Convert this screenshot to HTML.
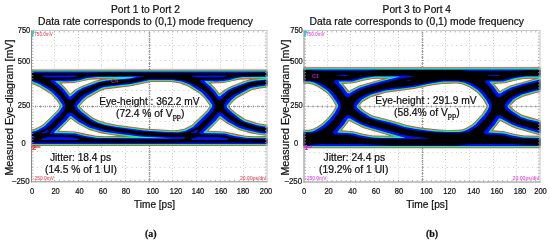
<!DOCTYPE html><html><head><meta charset="utf-8"><style>html,body{margin:0;padding:0;background:#fff}svg{display:block}text{font-family:'Liberation Sans',Arial,sans-serif}</style></head><body>
<svg width="550" height="244" viewBox="0 0 550 244">
<g stroke="#cbcbcb" stroke-width="1"><line x1="54.5" y1="31" x2="54.5" y2="182.3" stroke-dasharray="1 2.046"/><line x1="78.5" y1="31" x2="78.5" y2="182.3" stroke-dasharray="1 2.046"/><line x1="101.5" y1="31" x2="101.5" y2="182.3" stroke-dasharray="1 2.046"/><line x1="125.5" y1="31" x2="125.5" y2="182.3" stroke-dasharray="1 2.046"/><line x1="172.5" y1="31" x2="172.5" y2="182.3" stroke-dasharray="1 2.046"/><line x1="196.5" y1="31" x2="196.5" y2="182.3" stroke-dasharray="1 2.046"/><line x1="220.5" y1="31" x2="220.5" y2="182.3" stroke-dasharray="1 2.046"/><line x1="243.5" y1="31" x2="243.5" y2="182.3" stroke-dasharray="1 2.046"/><line x1="32" y1="45.5" x2="267.5" y2="45.5" stroke-dasharray="1 3.730"/><line x1="32" y1="60.5" x2="267.5" y2="60.5" stroke-dasharray="1 3.730"/><line x1="32" y1="75.5" x2="267.5" y2="75.5" stroke-dasharray="1 3.730"/><line x1="32" y1="90.5" x2="267.5" y2="90.5" stroke-dasharray="1 3.730"/><line x1="32" y1="121.5" x2="267.5" y2="121.5" stroke-dasharray="1 3.730"/><line x1="32" y1="136.5" x2="267.5" y2="136.5" stroke-dasharray="1 3.730"/><line x1="32" y1="151.5" x2="267.5" y2="151.5" stroke-dasharray="1 3.730"/><line x1="32" y1="167.5" x2="267.5" y2="167.5" stroke-dasharray="1 3.730"/></g>
<g stroke="#9a9a9a" stroke-width="1"><line x1="149.5" y1="30" x2="149.5" y2="182.3" stroke-dasharray="1 1"/><line x1="31" y1="106.5" x2="267.5" y2="106.5" stroke-dasharray="1 1"/></g>
<path d="M35.73 105.5v2M40.46 105.5v2M45.19 105.5v2M49.92 105.5v2M54.65 105.5v2M59.38 105.5v2M64.11 105.5v2M68.84 105.5v2M73.57 105.5v2M78.30 105.5v2M83.03 105.5v2M87.76 105.5v2M92.49 105.5v2M97.22 105.5v2M101.95 105.5v2M106.68 105.5v2M111.41 105.5v2M116.14 105.5v2M120.87 105.5v2M125.60 105.5v2M130.33 105.5v2M135.06 105.5v2M139.79 105.5v2M144.52 105.5v2M149.25 105.5v2M153.98 105.5v2M158.71 105.5v2M163.44 105.5v2M168.17 105.5v2M172.90 105.5v2M177.63 105.5v2M182.36 105.5v2M187.09 105.5v2M191.82 105.5v2M196.55 105.5v2M201.28 105.5v2M206.01 105.5v2M210.74 105.5v2M215.47 105.5v2M220.20 105.5v2M224.93 105.5v2M229.66 105.5v2M234.39 105.5v2M239.12 105.5v2M243.85 105.5v2M248.58 105.5v2M253.31 105.5v2M258.04 105.5v2M262.77 105.5v2M148.5 33.05h2M148.5 36.09h2M148.5 39.14h2M148.5 42.18h2M148.5 45.23h2M148.5 48.28h2M148.5 51.32h2M148.5 54.37h2M148.5 57.41h2M148.5 60.46h2M148.5 63.51h2M148.5 66.55h2M148.5 69.60h2M148.5 72.64h2M148.5 75.69h2M148.5 78.74h2M148.5 81.78h2M148.5 84.83h2M148.5 87.87h2M148.5 90.92h2M148.5 93.97h2M148.5 97.01h2M148.5 100.06h2M148.5 103.10h2M148.5 106.15h2M148.5 109.20h2M148.5 112.24h2M148.5 115.29h2M148.5 118.33h2M148.5 121.38h2M148.5 124.43h2M148.5 127.47h2M148.5 130.52h2M148.5 133.56h2M148.5 136.61h2M148.5 139.66h2M148.5 142.70h2M148.5 145.75h2M148.5 148.79h2M148.5 151.84h2M148.5 154.89h2M148.5 157.93h2M148.5 160.98h2M148.5 164.02h2M148.5 167.07h2M148.5 170.12h2M148.5 173.16h2M148.5 176.21h2M148.5 179.25h2" stroke="#8a8a8a" stroke-width="0.9" fill="none"/>
<clipPath id="cL"><rect x="31" y="30" width="236.5" height="152.3"/></clipPath>
<g clip-path="url(#cL)" fill-rule="evenodd">
<path fill="#e8402a" d="M279.2 146.1L19.0 146.1L19.0 129.9L30.0 129.9L34.8 128.8L40.0 126.3L43.7 123.8L51.8 116.0L57.0 110.7L60.3 106.0L56.5 100.3L51.2 94.5L40.2 87.4L31.0 83.5L24.2 82.3L19.0 82.0L19.0 69.5L279.2 69.5L279.2 86.4L259.8 88.5L251.5 90.2L237.0 98.2L233.2 101.5L229.1 106.2L231.8 109.2L236.5 113.2L245.5 119.3L258.2 123.2L279.2 126.5L279.2 146.1ZM70.5 93.5L74.3 90.0L80.8 86.4L94.5 80.9L100.7 79.2L89.5 79.8L74.0 83.0L61.3 83.5L65.5 87.7L70.0 93.5L70.5 93.5ZM220.0 93.5L223.8 90.0L230.2 86.4L244.0 80.9L250.2 79.2L239.0 79.8L223.5 83.0L210.8 83.5L215.0 87.7L219.5 93.5L220.0 93.5ZM178.0 130.0L184.2 128.8L192.0 124.8L206.5 110.7L209.8 106.0L205.0 99.0L199.5 93.5L188.0 86.5L179.5 83.3L171.0 82.0L151.0 82.0L130.8 86.3L104.5 89.5L99.5 91.4L87.5 98.2L83.7 101.5L79.6 106.2L84.3 111.0L93.2 117.8L98.5 120.3L106.5 122.7L118.0 125.0L145.0 128.4L172.2 130.2L178.0 130.0ZM118.0 136.0L101.5 133.4L89.2 129.9L77.6 123.8L70.8 118.7L59.0 130.8L75.2 131.4L95.8 135.7L105.2 136.2L118.0 136.0ZM267.5 136.0L251.0 133.4L238.8 129.9L227.1 123.8L220.2 118.7L208.5 130.8L224.8 131.4L245.2 135.7L254.8 136.2L267.5 136.0Z"/>
<path fill="#30e050" d="M279.2 145.3L19.0 145.3L19.0 130.7L30.2 130.7L35.0 129.4L40.8 126.7L44.0 124.5L57.7 111.0L61.1 106.0L57.2 100.0L51.5 93.8L41.0 87.0L31.2 82.8L24.5 81.6L19.0 81.3L19.0 70.2L279.2 70.2L279.2 85.7L259.5 87.8L250.8 89.8L236.8 97.5L232.7 101.0L228.3 106.2L231.3 109.8L235.0 113.0L244.8 119.7L252.2 122.4L259.0 124.2L279.2 127.2L279.2 136.6L260.0 134.3L243.5 130.7L237.8 128.7L229.8 124.4L220.0 117.7L216.8 121.8L206.8 131.5L222.8 131.9L238.8 135.4L248.0 136.7L279.2 136.9L279.2 145.3ZM70.5 94.5L77.0 89.1L94.8 81.6L102.5 79.7L115.7 78.2L94.2 78.6L87.8 79.3L80.8 81.2L74.0 82.3L59.3 82.8L65.0 88.2L69.8 94.5L70.5 94.5ZM220.0 94.5L226.5 89.1L244.2 81.6L252.0 79.7L265.2 78.2L243.8 78.6L237.2 79.3L230.3 81.2L223.5 82.3L208.8 82.8L214.5 88.2L219.3 94.5L220.0 94.5ZM177.7 130.8L184.5 129.4L192.2 125.5L207.2 111.0L210.6 106.0L205.7 98.8L199.8 92.8L188.8 86.0L183.8 83.8L178.8 82.3L171.2 81.3L150.8 81.3L130.8 85.6L105.2 88.6L101.2 89.8L88.0 97.0L83.2 100.9L78.8 106.2L84.0 111.7L92.5 118.2L98.2 120.9L107.2 123.7L117.8 125.7L144.8 129.2L166.8 130.7L177.7 130.8ZM130.7 136.8L110.5 134.3L94.0 130.7L88.2 128.7L80.2 124.4L70.5 117.7L67.2 121.8L57.3 131.5L73.2 131.9L89.2 135.4L98.5 136.7L130.7 136.8Z"/>
<path fill="#20e0f0" d="M279.2 144.5L19.0 144.5L19.0 131.5L30.5 131.5L35.5 130.2L41.2 127.4L44.5 125.2L58.4 111.5L62.0 106.0L57.9 99.5L52.0 93.1L41.5 86.3L31.8 82.1L24.8 80.8L19.0 80.5L19.0 71.0L279.2 71.0L279.2 77.2L247.5 77.5L238.5 78.2L230.0 80.5L223.5 81.5L216.2 82.0L206.0 81.8L209.0 83.9L213.8 88.8L219.5 95.9L227.0 89.8L232.8 87.0L247.8 81.3L255.8 80.0L279.2 77.8L279.2 84.8L259.2 87.0L250.8 88.8L236.2 96.8L232.0 100.4L227.2 106.2L227.8 107.5L234.5 113.7L240.8 118.4L244.8 120.7L258.8 125.0L279.2 128.0L279.2 135.8L260.0 133.5L244.0 130.0L238.2 128.0L230.2 123.7L220.0 116.8L218.8 117.5L216.1 121.2L204.6 132.2L222.8 132.8L238.5 136.2L247.8 137.5L279.2 137.8L279.2 144.5ZM70.4 95.8L73.8 92.4L77.5 89.8L83.2 87.0L98.2 81.3L106.2 80.0L132.8 77.2L98.0 77.5L87.5 78.5L80.5 80.5L74.0 81.5L66.8 82.0L56.5 81.8L59.5 83.9L64.3 88.8L69.6 95.8L70.4 95.8ZM177.5 131.8L185.0 130.2L192.8 126.2L207.9 111.5L211.5 106.0L206.4 98.2L200.2 92.1L189.2 85.3L181.2 82.1L171.5 80.5L150.5 80.5L130.8 84.8L105.0 87.8L101.2 88.8L86.8 96.8L82.5 100.4L77.8 106.0L78.3 107.5L81.5 110.7L92.0 118.9L97.8 121.7L105.8 124.2L117.5 126.5L144.5 130.0L177.5 131.8ZM153.2 137.8L140.2 137.0L112.2 133.8L96.2 130.5L86.2 126.7L78.2 122.3L70.5 116.8L69.3 117.5L66.6 121.2L55.1 132.2L73.2 132.8L89.0 136.2L98.2 137.5L153.2 137.8Z"/>
<path fill="#0010f0" d="M279.2 143.9L19.0 143.9L19.0 138.4L22.4 138.2L19.0 138.1L19.0 132.1L31.0 132.1L35.8 130.9L41.5 128.1L44.8 125.9L59.1 111.8L62.6 106.5L62.4 104.8L57.6 98.0L52.2 92.4L48.8 89.9L40.0 84.6L35.0 82.4L27.2 80.4L19.0 79.9L19.0 71.6L279.2 71.6L279.2 76.6L243.0 77.1L236.5 77.9L229.8 79.9L223.5 80.9L216.2 81.4L205.2 81.1L204.6 81.5L210.1 86.0L214.9 91.0L218.4 96.0L219.8 96.6L227.2 90.4L233.0 87.6L248.0 81.9L255.8 80.6L279.2 78.4L279.2 84.1L258.8 86.4L250.5 88.1L236.0 96.1L231.4 100.0L226.6 105.8L227.1 107.8L232.8 113.1L240.5 119.1L244.5 121.4L258.2 125.6L279.2 128.6L279.2 135.1L260.0 132.9L244.2 129.4L238.5 127.4L228.2 121.9L220.5 116.1L219.0 116.4L215.6 120.8L203.6 132.2L203.8 132.9L204.5 133.1L224.8 133.6L234.2 136.1L247.2 138.1L279.2 138.4L279.2 143.9ZM70.4 96.5L77.8 90.4L83.5 87.6L98.5 81.9L106.2 80.6L128.8 78.6L137.1 76.8L97.5 76.9L87.0 77.9L80.2 79.9L74.0 80.9L66.8 81.4L55.8 81.1L55.1 81.5L59.0 84.4L63.9 89.2L69.5 96.6L70.4 96.5ZM178.1 132.2L185.2 130.9L193.0 126.9L208.6 111.8L212.1 106.5L211.9 104.8L209.6 101.2L201.8 92.4L189.5 84.6L181.5 81.4L172.0 79.9L150.0 79.9L130.8 84.1L104.5 87.1L101.0 88.1L86.5 96.1L81.9 100.0L77.1 105.8L77.6 107.8L81.2 111.4L91.0 119.1L97.5 122.4L105.5 124.9L117.0 127.1L144.0 130.6L166.0 132.1L178.1 132.2ZM171.9 138.2L140.2 136.4L112.2 133.1L102.5 131.4L89.0 127.4L78.8 121.9L71.0 116.1L69.5 116.4L66.1 120.8L54.1 132.2L54.1 132.8L55.0 133.1L75.2 133.6L84.8 136.1L97.8 138.1L171.9 138.2Z"/>
<path fill="#000" d="M279.2 143.1L240.0 142.4L184.8 142.4L172.5 143.1L118.5 143.1L76.5 142.4L35.2 142.4L19.0 143.1L19.0 139.4L31.0 139.1L34.5 138.6L36.1 137.8L34.8 136.9L19.0 136.9L19.0 133.1L29.8 133.4L34.8 132.9L40.2 131.1L45.8 128.4L49.2 125.9L60.1 115.2L63.9 110.8L65.1 107.8L65.1 104.5L63.9 101.5L59.6 95.8L54.2 90.4L45.0 84.9L36.5 81.1L28.8 79.6L19.0 79.1L19.0 72.4L34.0 72.9L90.0 72.9L103.5 72.4L239.5 72.9L279.2 72.4L279.2 75.9L240.0 76.4L235.2 76.9L229.2 78.6L223.2 79.6L201.5 79.9L199.6 80.8L200.5 81.9L204.5 84.4L210.4 90.2L217.8 99.6L220.0 100.1L221.2 99.6L227.8 92.9L231.0 90.6L247.2 83.4L255.2 81.6L279.2 79.4L279.2 83.1L259.0 84.9L249.0 86.9L232.2 95.4L226.1 101.0L223.9 104.5L224.1 108.0L225.4 110.0L231.2 115.1L240.5 121.1L249.8 124.6L258.8 126.9L279.2 129.6L279.2 133.6L259.2 130.9L249.5 128.6L242.5 126.4L237.0 123.9L229.8 119.4L222.0 113.1L220.2 112.4L219.0 112.4L217.0 113.4L211.1 120.8L199.1 132.8L200.0 133.9L202.8 134.6L222.5 134.9L232.8 137.4L242.2 138.9L279.2 139.4L279.2 143.1ZM68.6 77.5L74.2 77.1L78.1 76.0L76.5 75.4L43.0 75.4L41.9 75.8L43.0 76.6L47.5 77.4L68.6 77.5ZM218.1 77.5L223.8 77.1L227.6 76.0L226.0 75.4L192.5 75.4L191.4 75.8L192.5 76.6L197.0 77.4L218.1 77.5ZM70.6 100.0L71.8 99.6L78.2 92.9L81.5 90.6L100.0 82.6L107.8 81.4L131.5 79.1L141.8 77.1L143.9 76.2L143.2 75.9L94.8 76.1L85.8 76.9L79.8 78.6L73.8 79.6L52.0 79.9L50.1 80.8L51.0 81.9L55.0 84.4L60.9 90.2L68.2 99.6L70.6 100.0ZM179.4 133.2L187.2 132.1L197.5 126.9L209.6 115.2L213.4 110.8L214.6 107.8L214.6 104.5L213.4 101.5L210.4 97.2L205.5 91.9L201.5 88.9L194.5 84.9L184.2 80.6L173.2 79.1L149.0 79.1L132.8 82.6L102.8 85.9L99.5 86.9L84.2 94.4L80.8 96.9L76.6 101.0L74.4 104.5L74.4 107.0L75.1 109.0L81.8 115.1L92.5 121.9L102.0 125.1L115.0 127.9L141.5 131.4L166.0 133.1L179.4 133.2ZM176.9 139.2L182.8 138.9L184.8 138.4L185.6 137.5L184.2 136.9L171.0 137.1L143.2 135.4L106.0 130.1L93.0 126.4L87.5 123.9L78.0 117.9L73.5 113.9L70.8 112.4L69.5 112.4L67.5 113.4L61.6 120.8L49.6 132.8L50.5 133.9L53.2 134.6L73.0 134.9L87.2 138.1L96.5 139.1L176.9 139.2ZM43.9 133.5L47.5 132.4L48.9 130.0L47.0 129.9L41.4 133.0L42.0 133.6L43.9 133.5ZM193.4 133.5L197.0 132.4L198.4 130.0L196.5 129.9L190.9 133.0L191.5 133.6L193.4 133.5ZM71.4 140.0L78.2 139.9L79.4 139.0L74.5 137.4L66.8 136.9L48.0 136.9L43.2 137.9L41.1 139.0L42.2 139.9L46.8 140.1L71.4 140.0ZM220.9 140.0L227.8 139.9L228.9 139.0L224.0 137.4L216.2 136.9L197.5 136.9L192.8 137.9L190.6 139.0L191.8 139.9L196.2 140.1L220.9 140.0Z"/>

</g>
<path d="M31 30.5H267.5M267.0 30V182.3" stroke="#c8c8c8" stroke-width="1" fill="none"/>
<path d="M31.5 30V182.3M31 181.8H267.5" stroke="#8a8a8a" stroke-width="1" fill="none"/>
<path d="M35.73 181.3v-1.5M35.73 31v1.5M40.46 181.3v-1.5M40.46 31v1.5M45.19 181.3v-1.5M45.19 31v1.5M49.92 181.3v-1.5M49.92 31v1.5M54.65 181.3v-1.5M54.65 31v1.5M59.38 181.3v-1.5M59.38 31v1.5M64.11 181.3v-1.5M64.11 31v1.5M68.84 181.3v-1.5M68.84 31v1.5M73.57 181.3v-1.5M73.57 31v1.5M78.30 181.3v-1.5M78.30 31v1.5M83.03 181.3v-1.5M83.03 31v1.5M87.76 181.3v-1.5M87.76 31v1.5M92.49 181.3v-1.5M92.49 31v1.5M97.22 181.3v-1.5M97.22 31v1.5M101.95 181.3v-1.5M101.95 31v1.5M106.68 181.3v-1.5M106.68 31v1.5M111.41 181.3v-1.5M111.41 31v1.5M116.14 181.3v-1.5M116.14 31v1.5M120.87 181.3v-1.5M120.87 31v1.5M125.60 181.3v-1.5M125.60 31v1.5M130.33 181.3v-1.5M130.33 31v1.5M135.06 181.3v-1.5M135.06 31v1.5M139.79 181.3v-1.5M139.79 31v1.5M144.52 181.3v-1.5M144.52 31v1.5M149.25 181.3v-1.5M149.25 31v1.5M153.98 181.3v-1.5M153.98 31v1.5M158.71 181.3v-1.5M158.71 31v1.5M163.44 181.3v-1.5M163.44 31v1.5M168.17 181.3v-1.5M168.17 31v1.5M172.90 181.3v-1.5M172.90 31v1.5M177.63 181.3v-1.5M177.63 31v1.5M182.36 181.3v-1.5M182.36 31v1.5M187.09 181.3v-1.5M187.09 31v1.5M191.82 181.3v-1.5M191.82 31v1.5M196.55 181.3v-1.5M196.55 31v1.5M201.28 181.3v-1.5M201.28 31v1.5M206.01 181.3v-1.5M206.01 31v1.5M210.74 181.3v-1.5M210.74 31v1.5M215.47 181.3v-1.5M215.47 31v1.5M220.20 181.3v-1.5M220.20 31v1.5M224.93 181.3v-1.5M224.93 31v1.5M229.66 181.3v-1.5M229.66 31v1.5M234.39 181.3v-1.5M234.39 31v1.5M239.12 181.3v-1.5M239.12 31v1.5M243.85 181.3v-1.5M243.85 31v1.5M248.58 181.3v-1.5M248.58 31v1.5M253.31 181.3v-1.5M253.31 31v1.5M258.04 181.3v-1.5M258.04 31v1.5M262.77 181.3v-1.5M262.77 31v1.5M32 33.05h1.5M266.5 33.05h-1.5M32 36.09h1.5M266.5 36.09h-1.5M32 39.14h1.5M266.5 39.14h-1.5M32 42.18h1.5M266.5 42.18h-1.5M32 45.23h1.5M266.5 45.23h-1.5M32 48.28h1.5M266.5 48.28h-1.5M32 51.32h1.5M266.5 51.32h-1.5M32 54.37h1.5M266.5 54.37h-1.5M32 57.41h1.5M266.5 57.41h-1.5M32 60.46h1.5M266.5 60.46h-1.5M32 63.51h1.5M266.5 63.51h-1.5M32 66.55h1.5M266.5 66.55h-1.5M32 69.60h1.5M266.5 69.60h-1.5M32 72.64h1.5M266.5 72.64h-1.5M32 75.69h1.5M266.5 75.69h-1.5M32 78.74h1.5M266.5 78.74h-1.5M32 81.78h1.5M266.5 81.78h-1.5M32 84.83h1.5M266.5 84.83h-1.5M32 87.87h1.5M266.5 87.87h-1.5M32 90.92h1.5M266.5 90.92h-1.5M32 93.97h1.5M266.5 93.97h-1.5M32 97.01h1.5M266.5 97.01h-1.5M32 100.06h1.5M266.5 100.06h-1.5M32 103.10h1.5M266.5 103.10h-1.5M32 106.15h1.5M266.5 106.15h-1.5M32 109.20h1.5M266.5 109.20h-1.5M32 112.24h1.5M266.5 112.24h-1.5M32 115.29h1.5M266.5 115.29h-1.5M32 118.33h1.5M266.5 118.33h-1.5M32 121.38h1.5M266.5 121.38h-1.5M32 124.43h1.5M266.5 124.43h-1.5M32 127.47h1.5M266.5 127.47h-1.5M32 130.52h1.5M266.5 130.52h-1.5M32 133.56h1.5M266.5 133.56h-1.5M32 136.61h1.5M266.5 136.61h-1.5M32 139.66h1.5M266.5 139.66h-1.5M32 142.70h1.5M266.5 142.70h-1.5M32 145.75h1.5M266.5 145.75h-1.5M32 148.79h1.5M266.5 148.79h-1.5M32 151.84h1.5M266.5 151.84h-1.5M32 154.89h1.5M266.5 154.89h-1.5M32 157.93h1.5M266.5 157.93h-1.5M32 160.98h1.5M266.5 160.98h-1.5M32 164.02h1.5M266.5 164.02h-1.5M32 167.07h1.5M266.5 167.07h-1.5M32 170.12h1.5M266.5 170.12h-1.5M32 173.16h1.5M266.5 173.16h-1.5M32 176.21h1.5M266.5 176.21h-1.5M32 179.25h1.5M266.5 179.25h-1.5" stroke="#a0a0a0" stroke-width="0.8" fill="none"/>
<g stroke="#cbcbcb" stroke-width="1"><line x1="327.5" y1="31" x2="327.5" y2="182.5" stroke-dasharray="1 2.050"/><line x1="350.5" y1="31" x2="350.5" y2="182.5" stroke-dasharray="1 2.050"/><line x1="374.5" y1="31" x2="374.5" y2="182.5" stroke-dasharray="1 2.050"/><line x1="398.5" y1="31" x2="398.5" y2="182.5" stroke-dasharray="1 2.050"/><line x1="445.5" y1="31" x2="445.5" y2="182.5" stroke-dasharray="1 2.050"/><line x1="469.5" y1="31" x2="469.5" y2="182.5" stroke-dasharray="1 2.050"/><line x1="493.5" y1="31" x2="493.5" y2="182.5" stroke-dasharray="1 2.050"/><line x1="516.5" y1="31" x2="516.5" y2="182.5" stroke-dasharray="1 2.050"/><line x1="304.5" y1="45.5" x2="540.5" y2="45.5" stroke-dasharray="1 3.740"/><line x1="304.5" y1="60.5" x2="540.5" y2="60.5" stroke-dasharray="1 3.740"/><line x1="304.5" y1="75.5" x2="540.5" y2="75.5" stroke-dasharray="1 3.740"/><line x1="304.5" y1="91.5" x2="540.5" y2="91.5" stroke-dasharray="1 3.740"/><line x1="304.5" y1="121.5" x2="540.5" y2="121.5" stroke-dasharray="1 3.740"/><line x1="304.5" y1="136.5" x2="540.5" y2="136.5" stroke-dasharray="1 3.740"/><line x1="304.5" y1="152.5" x2="540.5" y2="152.5" stroke-dasharray="1 3.740"/><line x1="304.5" y1="167.5" x2="540.5" y2="167.5" stroke-dasharray="1 3.740"/></g>
<g stroke="#9a9a9a" stroke-width="1"><line x1="422.5" y1="30" x2="422.5" y2="182.5" stroke-dasharray="1 1"/><line x1="303.5" y1="106.5" x2="540.5" y2="106.5" stroke-dasharray="1 1"/></g>
<path d="M308.24 105.5v2M312.98 105.5v2M317.72 105.5v2M322.46 105.5v2M327.20 105.5v2M331.94 105.5v2M336.68 105.5v2M341.42 105.5v2M346.16 105.5v2M350.90 105.5v2M355.64 105.5v2M360.38 105.5v2M365.12 105.5v2M369.86 105.5v2M374.60 105.5v2M379.34 105.5v2M384.08 105.5v2M388.82 105.5v2M393.56 105.5v2M398.30 105.5v2M403.04 105.5v2M407.78 105.5v2M412.52 105.5v2M417.26 105.5v2M422.00 105.5v2M426.74 105.5v2M431.48 105.5v2M436.22 105.5v2M440.96 105.5v2M445.70 105.5v2M450.44 105.5v2M455.18 105.5v2M459.92 105.5v2M464.66 105.5v2M469.40 105.5v2M474.14 105.5v2M478.88 105.5v2M483.62 105.5v2M488.36 105.5v2M493.10 105.5v2M497.84 105.5v2M502.58 105.5v2M507.32 105.5v2M512.06 105.5v2M516.80 105.5v2M521.54 105.5v2M526.28 105.5v2M531.02 105.5v2M535.76 105.5v2M421.5 33.05h2M421.5 36.10h2M421.5 39.15h2M421.5 42.20h2M421.5 45.25h2M421.5 48.30h2M421.5 51.35h2M421.5 54.40h2M421.5 57.45h2M421.5 60.50h2M421.5 63.55h2M421.5 66.60h2M421.5 69.65h2M421.5 72.70h2M421.5 75.75h2M421.5 78.80h2M421.5 81.85h2M421.5 84.90h2M421.5 87.95h2M421.5 91.00h2M421.5 94.05h2M421.5 97.10h2M421.5 100.15h2M421.5 103.20h2M421.5 106.25h2M421.5 109.30h2M421.5 112.35h2M421.5 115.40h2M421.5 118.45h2M421.5 121.50h2M421.5 124.55h2M421.5 127.60h2M421.5 130.65h2M421.5 133.70h2M421.5 136.75h2M421.5 139.80h2M421.5 142.85h2M421.5 145.90h2M421.5 148.95h2M421.5 152.00h2M421.5 155.05h2M421.5 158.10h2M421.5 161.15h2M421.5 164.20h2M421.5 167.25h2M421.5 170.30h2M421.5 173.35h2M421.5 176.40h2M421.5 179.45h2" stroke="#8a8a8a" stroke-width="0.9" fill="none"/>
<clipPath id="cR"><rect x="303.5" y="30" width="237.0" height="152.5"/></clipPath>
<g clip-path="url(#cR)" fill-rule="evenodd">
<path fill="#e8402a" d="M552.2 148.3L291.5 148.3L291.5 129.7L309.2 129.7L313.0 128.8L317.0 126.8L322.0 123.5L327.5 118.2L332.5 112.0L335.8 106.2L332.8 100.5L328.8 95.3L325.7 92.2L318.2 87.2L312.8 84.7L308.5 83.8L296.8 83.5L291.5 84.0L291.5 67.2L552.2 67.2L552.2 90.5L536.8 92.8L523.0 96.7L516.0 100.2L510.1 106.0L515.0 110.5L522.0 114.8L552.2 123.3L552.2 148.3ZM349.1 91.0L352.2 88.9L359.2 85.6L383.0 78.8L372.8 79.0L364.5 80.5L353.5 83.3L343.3 84.0L349.1 91.0ZM500.1 91.0L503.2 88.9L510.2 85.6L534.0 78.8L523.8 79.0L515.5 80.5L504.5 83.3L494.3 84.0L500.1 91.0ZM459.0 129.8L462.5 129.2L465.7 128.0L471.0 125.0L474.5 122.2L482.0 114.0L486.8 106.2L482.5 98.8L476.7 92.2L469.2 87.2L462.0 84.3L456.8 83.5L442.0 84.0L431.2 85.5L414.0 89.0L385.8 92.8L370.2 97.4L363.0 101.8L359.1 106.0L364.0 110.5L370.5 114.6L373.5 115.8L391.8 120.4L408.0 125.2L420.5 127.5L438.8 129.4L447.5 129.9L459.0 129.8ZM389.8 135.8L363.0 127.9L349.2 121.0L342.0 130.2L353.2 131.2L363.2 133.7L373.0 135.4L389.8 135.8ZM540.8 135.8L514.0 127.9L500.2 121.0L493.0 130.2L504.2 131.2L514.2 133.7L524.0 135.4L540.8 135.8Z"/>
<path fill="#30e050" d="M552.2 147.6L291.5 147.6L291.5 130.4L309.5 130.4L313.2 129.4L317.8 127.2L322.2 124.2L328.2 118.5L333.2 112.2L336.0 108.0L336.6 106.2L333.5 100.2L329.5 95.0L326.0 91.5L319.0 86.8L313.0 84.1L308.8 83.1L296.5 82.8L291.5 83.3L291.5 67.9L552.2 67.9L552.2 89.8L537.5 91.8L522.8 96.1L515.8 99.5L513.5 101.2L509.3 106.0L510.5 107.8L513.8 110.5L521.2 115.2L528.5 117.7L542.5 121.1L552.2 124.1L552.2 147.6ZM349.0 92.0L352.5 89.6L359.5 86.3L388.2 78.0L372.5 78.3L352.0 82.8L341.8 83.2L348.3 91.8L349.0 92.0ZM500.0 92.0L503.5 89.6L510.5 86.3L539.2 78.0L523.5 78.3L503.0 82.8L492.8 83.2L499.3 91.8L500.0 92.0ZM458.7 130.5L461.8 130.2L466.0 128.7L471.2 125.7L474.8 123.0L482.7 114.2L486.2 109.2L487.6 106.2L486.7 104.0L483.2 98.5L477.0 91.5L470.0 86.8L461.2 83.3L457.0 82.8L441.8 83.3L431.0 84.8L414.0 88.3L386.5 91.8L376.2 94.6L366.5 98.5L362.8 101.0L358.3 106.0L359.8 108.0L363.8 111.2L369.8 115.0L373.2 116.4L391.5 121.1L408.8 126.2L420.2 128.2L438.5 130.2L458.7 130.5ZM394.7 136.5L363.2 127.2L349.0 120.1L340.3 131.0L353.2 131.9L364.0 134.7L372.8 136.2L394.7 136.5ZM545.7 136.5L514.2 127.2L500.0 120.1L491.3 131.0L504.2 131.9L515.0 134.7L523.8 136.2L545.7 136.5Z"/>
<path fill="#20e0f0" d="M552.2 146.8L291.5 146.8L291.5 131.2L307.5 131.5L312.2 130.7L315.5 129.4L322.8 124.9L328.9 119.0L333.9 112.8L336.7 108.5L337.5 106.2L335.4 101.8L330.2 94.5L326.5 90.8L319.5 86.1L313.5 83.3L309.0 82.2L296.2 82.0L291.5 82.5L291.5 68.8L552.2 68.8L552.2 89.0L537.2 91.0L522.2 95.3L516.5 98.1L513.2 100.3L508.3 106.0L508.8 107.2L513.2 111.2L521.2 116.2L528.8 118.7L542.0 121.8L552.2 125.0L552.2 137.2L518.2 127.7L511.8 125.2L500.2 119.2L499.1 119.5L495.6 124.8L489.2 132.0L504.2 132.8L514.8 135.5L523.5 137.0L552.2 137.5L552.2 146.8ZM348.8 93.0L353.0 90.3L360.0 87.0L372.8 83.0L395.5 77.0L372.2 77.5L365.0 78.8L352.0 82.0L339.8 82.2L348.0 92.8L348.8 93.0ZM499.8 93.0L504.0 90.3L511.0 87.0L523.8 83.0L546.5 77.0L523.2 77.5L516.0 78.8L503.0 82.0L490.8 82.2L499.0 92.8L499.8 93.0ZM458.5 131.5L463.2 130.7L466.5 129.4L471.8 126.4L475.2 123.7L483.4 114.8L487.7 108.5L488.5 106.2L485.2 99.8L481.2 94.5L477.5 90.8L470.5 86.1L463.8 83.1L457.2 82.0L443.8 82.2L430.8 84.0L414.0 87.5L386.2 91.0L371.2 95.3L365.5 98.1L362.2 100.3L357.3 106.0L357.8 107.2L362.2 111.2L370.2 116.2L405.2 126.2L416.5 128.5L435.5 130.8L447.0 131.5L458.5 131.5ZM401.8 137.5L367.2 127.7L360.8 125.2L349.2 119.2L348.1 119.5L344.6 124.8L338.2 132.0L353.2 132.8L363.8 135.5L372.5 137.0L401.8 137.5Z"/>
<path fill="#0010f0" d="M552.2 146.1L291.5 146.1L291.5 131.9L308.0 132.1L312.5 131.4L315.8 130.1L323.0 125.6L329.6 119.2L334.6 113.0L338.1 106.8L337.9 104.8L336.1 101.5L330.9 94.2L326.8 90.1L319.8 85.4L313.8 82.6L309.5 81.6L295.8 81.4L291.5 81.9L291.5 69.4L552.2 69.4L552.2 88.4L536.8 90.4L522.0 94.6L516.2 97.4L513.0 99.6L507.6 105.8L508.1 107.5L511.8 110.9L521.0 116.9L528.5 119.4L541.8 122.4L552.2 125.6L552.2 136.6L518.5 127.1L512.0 124.6L500.8 118.6L499.0 118.6L498.4 119.2L495.1 124.2L488.4 132.0L488.8 132.6L504.2 133.4L512.0 135.6L523.0 137.6L552.2 138.1L552.2 146.1ZM349.4 93.5L353.2 90.9L360.2 87.6L373.0 83.6L400.1 76.5L374.5 76.6L364.5 78.1L352.0 81.4L338.8 81.6L338.4 82.0L342.6 86.5L347.4 93.2L349.4 93.5ZM500.4 93.5L504.2 90.9L511.2 87.6L524.0 83.6L551.1 76.5L525.5 76.6L515.5 78.1L503.0 81.4L489.8 81.6L489.4 82.0L493.6 86.5L498.4 93.2L500.4 93.5ZM459.1 132.0L462.5 131.6L466.8 130.1L472.0 127.1L475.5 124.4L484.1 115.0L487.6 110.0L489.1 106.8L488.9 104.8L485.9 99.5L481.9 94.2L477.8 90.1L470.8 85.4L464.0 82.4L457.8 81.4L443.2 81.6L430.2 83.4L414.0 86.9L385.8 90.4L371.0 94.6L365.2 97.4L362.0 99.6L356.6 105.8L357.1 107.5L360.8 110.9L370.0 116.9L377.5 119.4L390.8 122.4L405.0 126.9L416.0 129.1L435.0 131.4L446.5 132.1L459.1 132.0ZM405.6 138.0L367.5 127.1L361.0 124.6L349.8 118.6L348.0 118.6L347.4 119.2L344.1 124.2L337.4 132.0L337.8 132.6L353.2 133.4L361.0 135.6L372.0 137.6L381.8 138.1L405.6 138.0Z"/>
<path fill="#000" d="M552.2 145.4L528.8 145.1L513.5 144.1L470.5 144.1L456.2 145.4L390.0 145.4L362.5 144.1L349.0 144.1L319.5 144.1L305.2 145.4L291.5 145.4L291.5 132.9L312.0 132.9L316.8 132.1L322.0 129.6L328.0 125.4L334.1 119.0L338.9 112.5L340.9 108.0L340.4 102.8L335.9 95.5L330.2 89.4L323.8 84.9L317.2 81.9L312.5 80.9L306.0 80.4L291.5 80.6L291.5 70.1L309.0 70.1L319.0 70.9L363.8 70.9L381.5 70.1L460.0 70.1L470.0 70.9L514.8 70.9L532.5 70.1L552.2 70.1L552.2 75.4L521.0 75.9L511.5 77.4L502.5 79.9L496.5 80.4L487.0 80.1L484.4 81.5L491.9 89.5L495.6 95.2L497.2 96.9L499.2 97.4L501.8 96.1L507.2 91.9L514.5 88.6L529.8 84.1L552.2 78.6L552.2 87.1L533.5 89.6L518.0 94.1L512.8 96.6L509.2 99.1L505.9 102.5L504.6 105.0L505.1 108.5L507.5 111.1L511.5 114.1L518.2 117.9L525.8 120.4L538.8 123.4L552.2 127.4L552.2 134.1L516.5 124.1L508.0 120.1L499.5 115.1L497.2 115.6L495.6 117.2L490.4 124.8L483.4 132.2L484.8 133.9L486.2 134.4L501.2 134.9L511.8 137.6L518.8 138.6L552.2 139.1L552.2 145.4ZM348.1 76.0L348.6 75.2L348.0 74.9L338.2 74.9L335.9 75.8L348.1 76.0ZM499.1 76.0L499.6 75.2L499.0 74.9L489.2 74.9L486.9 75.8L499.1 76.0ZM348.4 97.2L350.8 96.1L356.2 91.9L365.0 88.1L399.2 78.9L414.9 76.2L406.0 75.4L370.0 75.9L360.5 77.4L349.8 80.1L336.0 80.1L334.0 80.9L333.4 81.5L333.6 82.0L340.9 89.5L344.6 95.2L346.2 96.9L348.4 97.2ZM407.6 81.0L411.0 80.6L411.9 80.0L409.5 79.9L405.6 80.8L407.6 81.0ZM459.1 133.0L465.2 132.6L468.5 131.9L477.5 126.6L486.1 117.8L490.6 111.2L491.9 108.0L491.4 102.8L485.1 93.2L481.2 89.4L474.8 84.9L467.5 81.6L457.0 80.4L441.8 80.6L428.2 82.4L410.2 86.1L391.2 88.1L382.5 89.6L367.0 94.1L361.8 96.6L358.2 99.1L354.9 102.5L353.6 105.0L354.1 108.5L356.5 111.1L360.5 114.1L367.2 117.9L404.0 128.4L414.0 130.4L428.0 132.1L446.8 133.1L459.1 133.0ZM415.6 139.0L430.1 138.5L427.8 137.9L412.8 136.6L404.0 135.1L384.0 129.1L370.0 125.6L362.5 122.9L348.5 115.1L346.2 115.6L344.6 117.2L339.4 124.8L332.4 132.2L333.8 133.9L335.2 134.4L350.2 134.9L360.8 137.6L367.8 138.6L384.0 139.1L415.6 139.0Z"/>

</g>
<path d="M303.5 30.5H540.5M540.0 30V182.5" stroke="#c8c8c8" stroke-width="1" fill="none"/>
<path d="M304.0 30V182.5M303.5 182.0H540.5" stroke="#8a8a8a" stroke-width="1" fill="none"/>
<path d="M308.24 181.5v-1.5M308.24 31v1.5M312.98 181.5v-1.5M312.98 31v1.5M317.72 181.5v-1.5M317.72 31v1.5M322.46 181.5v-1.5M322.46 31v1.5M327.20 181.5v-1.5M327.20 31v1.5M331.94 181.5v-1.5M331.94 31v1.5M336.68 181.5v-1.5M336.68 31v1.5M341.42 181.5v-1.5M341.42 31v1.5M346.16 181.5v-1.5M346.16 31v1.5M350.90 181.5v-1.5M350.90 31v1.5M355.64 181.5v-1.5M355.64 31v1.5M360.38 181.5v-1.5M360.38 31v1.5M365.12 181.5v-1.5M365.12 31v1.5M369.86 181.5v-1.5M369.86 31v1.5M374.60 181.5v-1.5M374.60 31v1.5M379.34 181.5v-1.5M379.34 31v1.5M384.08 181.5v-1.5M384.08 31v1.5M388.82 181.5v-1.5M388.82 31v1.5M393.56 181.5v-1.5M393.56 31v1.5M398.30 181.5v-1.5M398.30 31v1.5M403.04 181.5v-1.5M403.04 31v1.5M407.78 181.5v-1.5M407.78 31v1.5M412.52 181.5v-1.5M412.52 31v1.5M417.26 181.5v-1.5M417.26 31v1.5M422.00 181.5v-1.5M422.00 31v1.5M426.74 181.5v-1.5M426.74 31v1.5M431.48 181.5v-1.5M431.48 31v1.5M436.22 181.5v-1.5M436.22 31v1.5M440.96 181.5v-1.5M440.96 31v1.5M445.70 181.5v-1.5M445.70 31v1.5M450.44 181.5v-1.5M450.44 31v1.5M455.18 181.5v-1.5M455.18 31v1.5M459.92 181.5v-1.5M459.92 31v1.5M464.66 181.5v-1.5M464.66 31v1.5M469.40 181.5v-1.5M469.40 31v1.5M474.14 181.5v-1.5M474.14 31v1.5M478.88 181.5v-1.5M478.88 31v1.5M483.62 181.5v-1.5M483.62 31v1.5M488.36 181.5v-1.5M488.36 31v1.5M493.10 181.5v-1.5M493.10 31v1.5M497.84 181.5v-1.5M497.84 31v1.5M502.58 181.5v-1.5M502.58 31v1.5M507.32 181.5v-1.5M507.32 31v1.5M512.06 181.5v-1.5M512.06 31v1.5M516.80 181.5v-1.5M516.80 31v1.5M521.54 181.5v-1.5M521.54 31v1.5M526.28 181.5v-1.5M526.28 31v1.5M531.02 181.5v-1.5M531.02 31v1.5M535.76 181.5v-1.5M535.76 31v1.5M304.5 33.05h1.5M539.5 33.05h-1.5M304.5 36.10h1.5M539.5 36.10h-1.5M304.5 39.15h1.5M539.5 39.15h-1.5M304.5 42.20h1.5M539.5 42.20h-1.5M304.5 45.25h1.5M539.5 45.25h-1.5M304.5 48.30h1.5M539.5 48.30h-1.5M304.5 51.35h1.5M539.5 51.35h-1.5M304.5 54.40h1.5M539.5 54.40h-1.5M304.5 57.45h1.5M539.5 57.45h-1.5M304.5 60.50h1.5M539.5 60.50h-1.5M304.5 63.55h1.5M539.5 63.55h-1.5M304.5 66.60h1.5M539.5 66.60h-1.5M304.5 69.65h1.5M539.5 69.65h-1.5M304.5 72.70h1.5M539.5 72.70h-1.5M304.5 75.75h1.5M539.5 75.75h-1.5M304.5 78.80h1.5M539.5 78.80h-1.5M304.5 81.85h1.5M539.5 81.85h-1.5M304.5 84.90h1.5M539.5 84.90h-1.5M304.5 87.95h1.5M539.5 87.95h-1.5M304.5 91.00h1.5M539.5 91.00h-1.5M304.5 94.05h1.5M539.5 94.05h-1.5M304.5 97.10h1.5M539.5 97.10h-1.5M304.5 100.15h1.5M539.5 100.15h-1.5M304.5 103.20h1.5M539.5 103.20h-1.5M304.5 106.25h1.5M539.5 106.25h-1.5M304.5 109.30h1.5M539.5 109.30h-1.5M304.5 112.35h1.5M539.5 112.35h-1.5M304.5 115.40h1.5M539.5 115.40h-1.5M304.5 118.45h1.5M539.5 118.45h-1.5M304.5 121.50h1.5M539.5 121.50h-1.5M304.5 124.55h1.5M539.5 124.55h-1.5M304.5 127.60h1.5M539.5 127.60h-1.5M304.5 130.65h1.5M539.5 130.65h-1.5M304.5 133.70h1.5M539.5 133.70h-1.5M304.5 136.75h1.5M539.5 136.75h-1.5M304.5 139.80h1.5M539.5 139.80h-1.5M304.5 142.85h1.5M539.5 142.85h-1.5M304.5 145.90h1.5M539.5 145.90h-1.5M304.5 148.95h1.5M539.5 148.95h-1.5M304.5 152.00h1.5M539.5 152.00h-1.5M304.5 155.05h1.5M539.5 155.05h-1.5M304.5 158.10h1.5M539.5 158.10h-1.5M304.5 161.15h1.5M539.5 161.15h-1.5M304.5 164.20h1.5M539.5 164.20h-1.5M304.5 167.25h1.5M539.5 167.25h-1.5M304.5 170.30h1.5M539.5 170.30h-1.5M304.5 173.35h1.5M539.5 173.35h-1.5M304.5 176.40h1.5M539.5 176.40h-1.5M304.5 179.45h1.5M539.5 179.45h-1.5" stroke="#a0a0a0" stroke-width="0.8" fill="none"/>
<text x="34.3" y="35.9" fill="#e8283c" font-size="4.9" textLength="18.5" lengthAdjust="spacingAndGlyphs">750.0mV</text>
<text x="32.8" y="179.9" fill="#e8283c" font-size="4.9" textLength="21.3" lengthAdjust="spacingAndGlyphs">-250.0mV</text>
<text x="240" y="180" fill="#e8283c" font-size="4.9" textLength="26" lengthAdjust="spacingAndGlyphs">20.00ps/div</text>
<text x="306" y="36" fill="#e020e0" font-size="4.9" textLength="18.6" lengthAdjust="spacingAndGlyphs">750.0mV</text>
<text x="305" y="179.9" fill="#e020e0" font-size="4.9" textLength="21.5" lengthAdjust="spacingAndGlyphs">-250.0mV</text>
<text x="512.5" y="180" fill="#e020e0" font-size="4.9" textLength="26.5" lengthAdjust="spacingAndGlyphs">20.00ps/div</text>
<text x="111" y="82.6" fill="#e02818" font-weight="bold" font-size="5.6">C4</text>
<text x="312" y="78.3" fill="#c418c8" font-weight="bold" font-size="5.6">C1</text>
<text x="32" y="150" fill="#ee2020" font-weight="bold" font-size="7.5">2</text>
<path d="M31.5 147h9" stroke="#ee2020" stroke-width="1.2"/>
<text x="304.2" y="150" fill="#e020e0" font-weight="bold" font-size="7.5">1</text>
<path d="M304 147h8" stroke="#e020e0" stroke-width="1.2"/>
<path d="M31.5 30.5h3l-1.5 6.5h-1.5z" fill="#40c8c8"/>
<path d="M304 30.5h3.5l-2 6h-1.5z" fill="#40c8c8"/>
<g fill="#111" stroke="#111" stroke-width="0.22">
<text x="111" y="13.0" font-size="10.3" text-anchor="start" textLength="69" lengthAdjust="spacingAndGlyphs">Port 1 to Port 2</text>
<text x="38" y="25.3" font-size="10.3" text-anchor="start" textLength="215" lengthAdjust="spacingAndGlyphs">Data rate corresponds to (0,1) mode frequency</text>
<text x="382.6" y="12.9" font-size="10.3" text-anchor="start" textLength="68.4" lengthAdjust="spacingAndGlyphs">Port 3 to Port 4</text>
<text x="309.6" y="25.0" font-size="10.3" text-anchor="start" textLength="214.4" lengthAdjust="spacingAndGlyphs">Data rate corresponds to (0,1) mode frequency</text>
<text x="30.3" y="32.8" font-size="8.7" text-anchor="end" textLength="12.6" lengthAdjust="spacingAndGlyphs">750</text>
<text x="30.3" y="63.6" font-size="8.7" text-anchor="end" textLength="12.6" lengthAdjust="spacingAndGlyphs">500</text>
<text x="30.3" y="108.2" font-size="8.7" text-anchor="end" textLength="12.6" lengthAdjust="spacingAndGlyphs">250</text>
<text x="25.7" y="146.1" font-size="8.7" text-anchor="end" textLength="4.2" lengthAdjust="spacingAndGlyphs">0</text>
<text x="29.6" y="184.4" font-size="8.7" text-anchor="end" textLength="17.8" lengthAdjust="spacingAndGlyphs">−250</text>
<text x="302.8" y="32.8" font-size="8.7" text-anchor="end" textLength="12.6" lengthAdjust="spacingAndGlyphs">750</text>
<text x="302.8" y="63.6" font-size="8.7" text-anchor="end" textLength="12.6" lengthAdjust="spacingAndGlyphs">500</text>
<text x="302.8" y="108.2" font-size="8.7" text-anchor="end" textLength="12.6" lengthAdjust="spacingAndGlyphs">250</text>
<text x="298.2" y="146.1" font-size="8.7" text-anchor="end" textLength="4.2" lengthAdjust="spacingAndGlyphs">0</text>
<text x="302.1" y="184.4" font-size="8.7" text-anchor="end" textLength="17.8" lengthAdjust="spacingAndGlyphs">−250</text>
<text x="32" y="194.3" font-size="8.7" text-anchor="middle" textLength="4.2" lengthAdjust="spacingAndGlyphs">0</text>
<text x="55.6" y="194.3" font-size="8.7" text-anchor="middle" textLength="8.4" lengthAdjust="spacingAndGlyphs">20</text>
<text x="79.4" y="194.3" font-size="8.7" text-anchor="middle" textLength="8.4" lengthAdjust="spacingAndGlyphs">40</text>
<text x="103" y="194.3" font-size="8.7" text-anchor="middle" textLength="8.4" lengthAdjust="spacingAndGlyphs">60</text>
<text x="126" y="194.3" font-size="8.7" text-anchor="middle" textLength="8.4" lengthAdjust="spacingAndGlyphs">80</text>
<text x="152.75" y="194.3" font-size="8.7" text-anchor="middle" textLength="12.6" lengthAdjust="spacingAndGlyphs">100</text>
<text x="176" y="194.3" font-size="8.7" text-anchor="middle" textLength="12.6" lengthAdjust="spacingAndGlyphs">120</text>
<text x="198" y="194.3" font-size="8.7" text-anchor="middle" textLength="12.6" lengthAdjust="spacingAndGlyphs">140</text>
<text x="221" y="194.3" font-size="8.7" text-anchor="middle" textLength="12.6" lengthAdjust="spacingAndGlyphs">160</text>
<text x="243" y="194.3" font-size="8.7" text-anchor="middle" textLength="12.6" lengthAdjust="spacingAndGlyphs">180</text>
<text x="266" y="194.3" font-size="8.7" text-anchor="middle" textLength="12.6" lengthAdjust="spacingAndGlyphs">200</text>
<text x="304" y="194.3" font-size="8.7" text-anchor="middle" textLength="4.2" lengthAdjust="spacingAndGlyphs">0</text>
<text x="328.6" y="194.3" font-size="8.7" text-anchor="middle" textLength="8.4" lengthAdjust="spacingAndGlyphs">20</text>
<text x="352.4" y="194.3" font-size="8.7" text-anchor="middle" textLength="8.4" lengthAdjust="spacingAndGlyphs">40</text>
<text x="376" y="194.3" font-size="8.7" text-anchor="middle" textLength="8.4" lengthAdjust="spacingAndGlyphs">60</text>
<text x="399" y="194.3" font-size="8.7" text-anchor="middle" textLength="8.4" lengthAdjust="spacingAndGlyphs">80</text>
<text x="426.5" y="194.3" font-size="8.7" text-anchor="middle" textLength="12.6" lengthAdjust="spacingAndGlyphs">100</text>
<text x="449.6" y="194.3" font-size="8.7" text-anchor="middle" textLength="12.6" lengthAdjust="spacingAndGlyphs">120</text>
<text x="473.6" y="194.3" font-size="8.7" text-anchor="middle" textLength="12.6" lengthAdjust="spacingAndGlyphs">140</text>
<text x="496.8" y="194.3" font-size="8.7" text-anchor="middle" textLength="12.6" lengthAdjust="spacingAndGlyphs">160</text>
<text x="520" y="194.3" font-size="8.7" text-anchor="middle" textLength="12.6" lengthAdjust="spacingAndGlyphs">180</text>
<text x="540.5" y="194.3" font-size="8.7" text-anchor="middle" textLength="12.6" lengthAdjust="spacingAndGlyphs">200</text>
<text x="154.5" y="208" font-size="10.2" text-anchor="middle" textLength="41" lengthAdjust="spacingAndGlyphs">Time [ps]</text>
<text x="427" y="208" font-size="10.2" text-anchor="middle" textLength="41.5" lengthAdjust="spacingAndGlyphs">Time [ps]</text>
<text transform="translate(12.5 107.6) rotate(-90)" font-size="10.5" text-anchor="middle" textLength="136" lengthAdjust="spacingAndGlyphs">Measured Eye-diagram [mV]</text>
<text transform="translate(288.5 107.6) rotate(-90)" font-size="10.5" text-anchor="middle" textLength="136" lengthAdjust="spacingAndGlyphs">Measured Eye-diagram [mV]</text>
<text x="99.3" y="105" font-size="10.1" text-anchor="start" textLength="100.2" lengthAdjust="spacingAndGlyphs">Eye-height : 362.2 mV</text>
<text x="116" y="117" font-size="10.3">(72.4 % of V<tspan style="font-family:'Liberation Serif',serif" font-size="8.4" dy="1.6">pp</tspan><tspan dy="-1.6">)</tspan></text>
<text x="50" y="161" font-size="10.1" text-anchor="start" textLength="61" lengthAdjust="spacingAndGlyphs">Jitter: 18.4 ps</text>
<text x="45" y="173" font-size="10.1" text-anchor="start" textLength="72" lengthAdjust="spacingAndGlyphs">(14.5 % of 1 UI)</text>
<text x="375.3" y="104.4" font-size="10.1" text-anchor="start" textLength="101.3" lengthAdjust="spacingAndGlyphs">Eye-height : 291.9 mV</text>
<text x="394" y="116" font-size="10.3">(58.4% of V<tspan style="font-family:'Liberation Serif',serif" font-size="8.4" dy="1.6">pp</tspan><tspan dy="-1.6">)</tspan></text>
<text x="323.6" y="161" font-size="10.1" text-anchor="start" textLength="61.4" lengthAdjust="spacingAndGlyphs">Jitter: 24.4 ps</text>
<text x="319" y="173" font-size="10.1" text-anchor="start" textLength="69.4" lengthAdjust="spacingAndGlyphs">(19.2% of 1 UI)</text>
<text x="150.8" y="237.3" font-size="10" text-anchor="middle" style="font-family:'Liberation Serif',serif" font-weight="bold">(a)</text>
<text x="432" y="237.3" font-size="10" text-anchor="middle" style="font-family:'Liberation Serif',serif" font-weight="bold">(b)</text>
</g>
</svg></body></html>
